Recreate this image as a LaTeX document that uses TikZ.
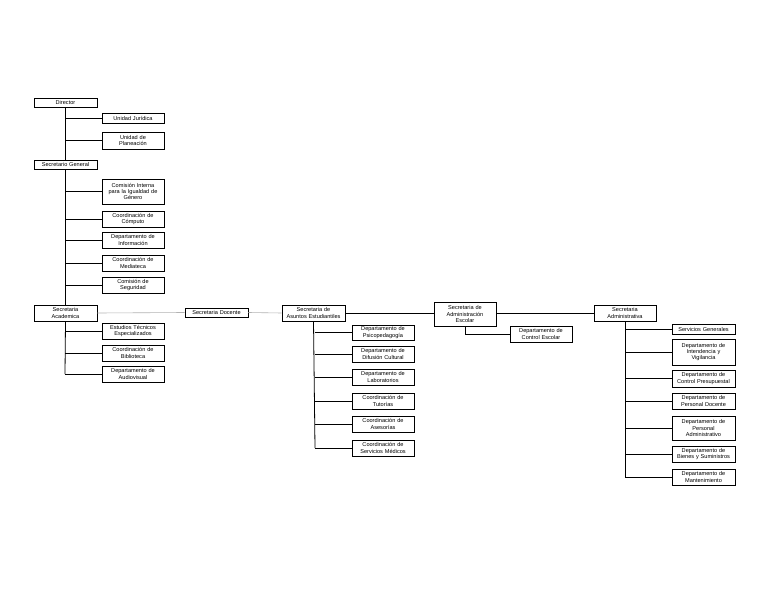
\documentclass[tikz,border=0pt]{standalone}
\usepackage{fontspec}
\setmainfont{Liberation Sans}
\begin{document}
\begin{tikzpicture}[x=1pt,y=-1pt,
 bx/.style={draw,line width=0.8pt,inner sep=0pt,align=center,font=\fontsize{5.6}{6.4}\selectfont,text width=60pt},
 ln/.style={line width=0.8pt}]
\useasboundingbox (0,0) rectangle (768,594);
\newcommand{\bxn}[6]{\node[bx,minimum width={#4-#2},minimum height={#5-#3}] (#1) at ({(#2+#4)/2},{(#3+#5)/2}) {#6};}
\bxn{dir}{34}{98}{97}{107}{Director}
\bxn{uj}{102}{113}{164}{123}{Unidad Jurídica}
\bxn{up}{102}{132}{164}{149}{Unidad de\\Planeación}
\bxn{sg}{34}{160}{97}{169}{Secretario General}
\bxn{ci}{102}{179}{164}{204}{Comisión Interna\\para la Igualdad de\\Género}
\bxn{cc}{102}{211}{164}{227}{Coordinación de\\Cómputo}
\bxn{di}{102}{232}{164}{248}{Departamento de\\Información}
\bxn{cm}{102}{255}{164}{271}{Coordinación de\\Mediateca}
\bxn{cs}{102}{277}{164}{293}{Comisión de\\Seguridad}
\bxn{sa}{34}{305}{97}{321}{Secretaria\\Academica}
\bxn{et}{102}{323}{164}{339}{Estudios Técnicos\\Especializados}
\bxn{cb}{102}{345}{164}{361}{Coordinación de\\Biblioteca}
\bxn{da}{102}{366}{164}{382}{Departamento de\\Audiovisual}
\bxn{sd}{185}{308}{248}{317}{Secretaria Docente}
\bxn{ae}{282}{305}{345}{321}{Secretaria de\\Asuntos Estudiantiles}
\bxn{ps}{352}{325}{414}{340}{Departamento de\\Psicopedagogía}
\bxn{dc}{352}{346}{414}{362}{Departamento de\\Difusión Cultural}
\bxn{la}{352}{369}{414}{385}{Departamento de\\Laboratorios}
\bxn{tu}{352}{393}{414}{409}{Coordinación de\\Tutorías}
\bxn{as}{352}{416}{414}{432}{Coordinación de\\Asesorías}
\bxn{sm}{352}{440}{414}{456}{Coordinación de\\Servicios Médicos}
\bxn{adm}{434}{302}{496}{326}{Secretaria de\\Administración\\Escolar}
\bxn{ce}{510}{326}{572}{342}{Departamento de\\Control Escolar}
\bxn{sad}{594}{305}{656}{321}{Secretaria\\Administrativa}
\bxn{sgn}{672}{324}{735}{334}{Servicios Generales}
\bxn{iv}{672}{339}{735}{365}{Departamento de\\Intendencia y\\Vigilancia}
\bxn{cp}{672}{370}{735}{387}{Departamento de\\Control Presupuestal}
\bxn{pd}{672}{393}{735}{409}{Departamento de\\Personal Docente}
\bxn{pa}{672}{416}{735}{440}{Departamento de\\Personal\\Administrativo}
\bxn{bs}{672}{446}{735}{462}{Departamento de\\Bienes y Suministros}
\bxn{mt}{672}{469}{735}{485}{Departamento de\\Mantenimiento}
% trunk
\draw[ln] (dir.south) -- (sg.north);
\draw[ln] (sg.south) -- (sa.north);
\draw[ln] (sa.south) -- (65,374);
\foreach \n in {uj,up,ci,cc,di,cm,cs,et,cb,da} \draw[ln] (65,0 |- \n.west) -- (\n.west);
\draw[gray!60,line width=0.6pt] (sa.east) -- (sd.west);
\draw[gray!60,line width=0.6pt] (sd.east) -- (ae.west);
\draw[ln] (ae.east) -- (ae.east -| adm.west);
\draw[ln] (adm.east |- sad.west) -- (sad.west);
\draw[ln] (ae.south) -- (315,448);
\foreach \n in {ps,dc,la,tu,as,sm} \draw[ln] (315,0 |- \n.west) -- (\n.west);
\draw[ln] (adm.south) |- (ce.west);
\draw[ln] (sad.south) -- (625,477);
\foreach \n in {sgn,iv,cp,pd,pa,bs,mt} \draw[ln] (625,0 |- \n.west) -- (\n.west);
\end{tikzpicture}
\end{document}
